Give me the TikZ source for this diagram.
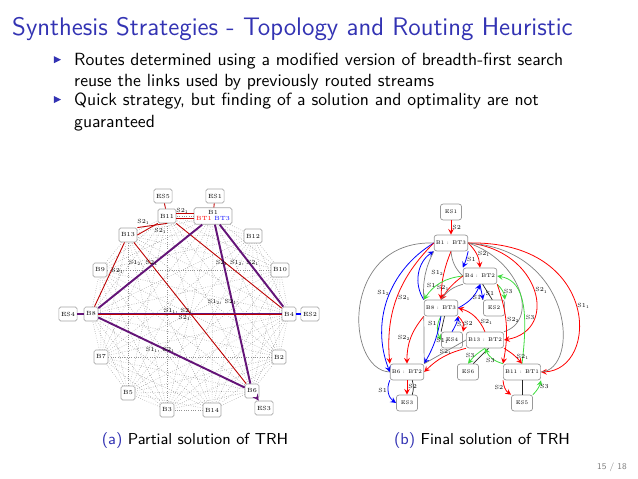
\documentclass[tikz,border=0pt]{standalone}
\usepackage{amsmath}
\usepackage{xcolor}
\usetikzlibrary{arrows,positioning,backgrounds,calc}
\definecolor{titleblue}{RGB}{51,51,179}
\definecolor{purp}{RGB}{100,20,120}
\definecolor{grn}{RGB}{60,220,60}
\newcommand{\tn}{\fontsize{3.4}{4}\selectfont}
\newcommand{\ix}[1]{\raisebox{-0.6pt}{\fontsize{2.4}{3}\selectfont#1}}

\begin{document}
\begin{tikzpicture}[x=0.567pt, y=-0.567pt, >=stealth,
    sw/.style={draw=gray!70, rounded corners=1pt, fill=white, inner sep=1.2pt, font=\tn, minimum height=8pt},
    rn/.style={draw=gray!80, rounded corners=1.5pt, fill=white, inner sep=1pt, font=\fontsize{3}{4}\selectfont, minimum height=9pt},
    lbl/.style={font=\tn, inner sep=0.5pt, text=black},
    mesh/.style={gray!85, densely dotted, line width=0.3pt},
    redl/.style={red!75!black, line width=0.5pt},
    thk/.style={purp, line width=1.1pt},
    fl/.style={->, line width=0.45pt},
    bullet/.style={font=\sffamily, anchor=west, align=left}
]
\useasboundingbox (0,0) rectangle (638,479);

% Title and bullets
\node[anchor=west, font=\sffamily\Large, text=titleblue] (title) at (6,29) {Synthesis Strategies - Topology and Routing Heuristic};
\node[bullet] (it1) at (68,72) {Routes determined using a modified version of breadth-first search\\reuse the links used by previously routed streams};
\node[bullet] (it2) at (68,112) {Quick strategy, but finding of a solution and optimality are not\\guaranteed};
\fill[titleblue] ($(it1.north west)+(-14,9)$) -- ++(0,7) -- ++(7,-3.5) -- cycle;
\fill[titleblue] ($(it2.north west)+(-14,9)$) -- ++(0,7) -- ++(7,-3.5) -- cycle;

% (a) partial solution
\node[sw] (b1) at (213,216) {\begin{tabular}{@{}c@{}}B1\\[-1pt]{\color{red}BT1} {\color{blue}BT3}\end{tabular}};
\node[sw] (es5) at (163,196) {ES5};
\node[sw] (es1) at (215,196) {ES1};
\node[sw] (b11) at (167,216) {B11};
\node[sw] (b12) at (253,236) {B12};
\node[sw] (b13) at (128,235) {B13};
\node[sw] (b9) at (100,270) {B9};
\node[sw] (b10) at (280,270) {B10};
\node[sw] (es4) at (68,314) {ES4};
\node[sw] (b8) at (91,314) {B8};
\node[sw] (b4) at (289,314) {B4};
\node[sw] (es2) at (310,314) {ES2};
\node[sw] (b7) at (101,357) {B7};
\node[sw] (b2) at (279,357) {B2};
\node[sw] (b5) at (128,393) {B5};
\node[sw] (b6) at (252,391) {B6};
\node[sw] (b3) at (167,410) {B3};
\node[sw] (b14) at (212,410) {B14};
\node[sw] (es3) at (264,408) {ES3};

\begin{scope}[on background layer]
\foreach \a [count=\i] in {b1,b12,b10,b4,b2,b6,b14,b3,b5,b7,b8,b9,b13,b11}
  \foreach \b [count=\j] in {b1,b12,b10,b4,b2,b6,b14,b3,b5,b7,b8,b9,b13,b11}
    {\ifnum\j>\i \draw[mesh] (\a) -- (\b); \fi}
\end{scope}

\draw[redl] (es5) -- (b11);
\draw[redl] (es1) -- (b1);
\draw[redl] ([yshift=-1.5]b11.east) -- ([yshift=-1.5]b1.west);
\draw[redl] ([yshift=1.5]b11.east) -- ([yshift=1.5]b1.west);
\draw[redl] (b13.east) -- (b11.south west);
\draw[redl] (b13.north east) -- (b11.south);
\draw[redl] (b13) -- (b8);
\draw[redl] (b13) -- (b6);
\draw[redl] (b11) -- (b4);
\draw[thk] (b1) -- (b8);
\draw[thk] (b1) -- (b6);
\draw[thk] (b1) -- (b4);
\draw[thk] (b8) -- (b4);
\draw[redl] (b8) -- (b4);
\draw[thk] (b8) -- (b6);
\draw[thk] (es4) -- (b8);
\draw[blue, line width=0.8pt] (b4) -- (es2);
\draw[purp, ->, line width=0.6pt] (b6) -- (es3);

\node[lbl] (la1) at (182,211) {S2\ix1};
\node[lbl] (la2) at (143,222) {S2\ix1};
\node[lbl] (la3) at (160,231) {S2\ix1};
\node[lbl] (la4) at (143,263) {S1\ix2, S2\ix1};
\node[lbl] (la5) at (117,271) {S2\ix1};
\node[lbl] (la6) at (237,263) {S2\ix1 S1\ix2, S2\ix1};
\node[lbl] (la7) at (222,302) {S1\ix2, S2\ix1};
\node[lbl] (la8) at (178,311) {S1\ix1, S2\ix1};
\node[lbl] (la9) at (184,318) {S2\ix1};
\node[lbl] (la10) at (160,350) {S1\ix1, S2\ix1};

\node[font=\sffamily\small] (capa) at (195,441) {{\color{titleblue}(a)} Partial solution of TRH};

% (b) final solution
\node[rn, minimum width=12pt] (res1) at (451,212) {ES1};
\node[rn] (rb1) at (451,243) {B1 : BT3};
\node[rn] (rb4) at (480,276) {B4 : BT2};
\node[rn] (rb8) at (441,308) {B8 : BT3};
\node[rn, minimum width=12pt] (res2) at (494,308) {ES2};
\node[rn, minimum width=12pt] (res4) at (452,340) {ES4};
\node[rn] (rb13) at (485,340) {B13 : BT2};
\node[rn] (rb6) at (407,372) {B6 : BT2};
\node[rn, minimum width=12pt] (res6) at (468,372) {ES6};
\node[rn] (rb11) at (522,372) {B11 : BT1};
\node[rn, minimum width=12pt] (res3) at (407,403) {ES3};
\node[rn, minimum width=12pt] (res5) at (522,403) {ES5};

% ES1 - B1
\draw[fl, red] (res1) -- node[lbl, right] {S2} (rb1);
% B1 - B6
\draw[gray] (rb1.west) .. controls (340,240) and (345,370) .. (rb6.west);
\draw[fl, blue] (rb1.west) to[bend right=40] node[lbl, pos=0.45, left] {S1\ix2} (rb6.west);
\draw[fl, red] (rb1.west) to[bend right=25] node[lbl, pos=0.5, right] {S2\ix1} (rb6.north west);
% B1 - B8
\draw[fl, blue] (rb8.north west) to[bend left=45] (rb1.south west);
\draw[fl, red] (rb1.south) to[bend right=10] node[lbl, pos=0.45, left] {S1\ix2} (rb8.north);
\draw[gray] (rb1.south west) to[bend right=15] (rb8.north west);
% B1 - B4
\draw[fl, blue] (rb1.south east) to[bend left=5] node[lbl, pos=0.5, right] {S1} (rb4.north west);
\draw[fl, red] (rb1.east) to[bend left=20] node[lbl, pos=0.5, right] {S2\ix1} (rb4.north);
\draw[gray] (rb1.south) to[bend right=20] (rb4.west);
% B1 - B13, B11
\draw[fl, red] (rb1.east) .. controls (540,250) and (560,330) .. node[lbl, pos=0.5, right] {S2\ix1} (rb13.east);
\draw[gray] (rb1.east) .. controls (520,260) and (540,320) .. (rb13.north east);
\draw[fl, red] (rb1.east) .. controls (600,240) and (600,370) .. node[lbl, pos=0.5, right] {S1\ix1} (rb11.east);
\draw[gray] (rb1.east) .. controls (575,250) and (580,370) .. (rb11.east);
% B4 - B8
\draw[fl, grn] (rb4.west) to[bend right=25] node[lbl, pos=0.6, left] {S1} (rb8.north west);
\draw[fl, red] (rb4.west) to[bend right=10] node[lbl, pos=0.55, left] {S2\ix1} (rb8.north);
\draw[gray] (rb4.south west) to[bend right=20] (rb8.north);
\draw[fl, blue] (rb8.east) to[bend right=20] node[lbl, pos=0.5, right] {S1\ix1} (rb4.south);
% B4 - ES2
\draw[fl, blue] (rb4.south) -- (res2.north west);
\draw[gray!30!black] ([xshift=1.5]rb4.south) -- ([xshift=-1]res2.north);
\draw[fl, grn] (rb4.south east) to[bend left=20] node[lbl, right] {S3} (res2.north east);
\node[lbl] (lb1) at (490,293) {S1};
% B4 - B11
\draw[fl, red] (rb4.south east) to[bend left=15] node[lbl, pos=0.45, right] {S2\ix2} (rb11.north west);
\draw[fl, grn] (rb11.north) .. controls (530,300) and (520,280) .. node[lbl, pos=0.3, right] {S3} (rb4.east);
% B8 - ES4
\draw[fl, grn] (rb8.south) to[bend right=30] node[lbl, pos=0.3, left] {S1} (res4.west);
\draw[gray!30!black] ([xshift=2]rb8.south) -- (res4.north west);
\draw[fl, blue] (res4.north) to[bend right=10] node[lbl, pos=0.5, right] {S1} (rb8.south east);
\draw[fl, red] (rb8.south east) to[bend left=30] node[lbl, pos=0.5, right] {S2} (res4.north east);
% B13 - B8
\draw[fl, red] (rb13.north) to[bend right=25] node[lbl, pos=0.3, right] {S2\ix1} (rb8.east);
% B8 - B6
\draw[fl, red] (rb8.south west) to[bend right=20] node[lbl, pos=0.5, left] {S2\ix2} (rb6.north);
\draw[gray] (rb8.south west) -- (rb6.north east);
\draw[fl, blue] (rb8.south) to[bend left=10] node[lbl, pos=0.5, right] {S1\ix1} (rb6.north east);
% B13 - B6
\draw[fl, red] (rb13.south west) to[bend right=15] node[lbl, pos=0.45, above] {S2\ix1} (rb6.east);
\draw[gray] (rb13.west) -- (rb6.north east);
% B13 - ES6
\draw[fl, grn] (rb13.south) to[bend right=10] node[lbl, pos=0.5, left] {S3} (res6.north);
\draw[gray!30!black] ([xshift=2]rb13.south) -- ([xshift=3]res6.north);
% B13 - B11
\draw[fl, red] (rb13.south east) to[bend left=10] node[lbl, pos=0.6, right] {S2\ix1} (rb11.north);
\draw[fl, grn] (rb11.north west) to[bend left=25] node[lbl, pos=0.6, below] {S3} (rb13.south);
% B6 - ES3
\draw[fl, blue] (rb6.south west) to[bend right=40] node[lbl, pos=0.4, left] {S1} (res3.west);
\draw[fl, red] (rb6.south) -- node[lbl, pos=0.4, right] {S2} (res3.north);
\draw[gray!30!black] ([xshift=3]rb6.south) to[bend left=15] ([xshift=3]res3.north);
% B11 - ES5
\draw[fl, red] (rb11.south west) to[bend right=25] node[lbl, pos=0.4, left] {S2} (res5.north west);
\draw[gray!30!black] (rb11.south) -- (res5.north);
\draw[fl, grn] (res5.north east) to[bend right=15] node[lbl, pos=0.6, right] {S3} (rb11.south east);

\node[font=\sffamily\small] (capb) at (482,441) {{\color{titleblue}(b)} Final solution of TRH};

\node[font=\sffamily\tiny, text=gray] (page) at (612,467) {15 / 18};
\end{tikzpicture}
\end{document}
